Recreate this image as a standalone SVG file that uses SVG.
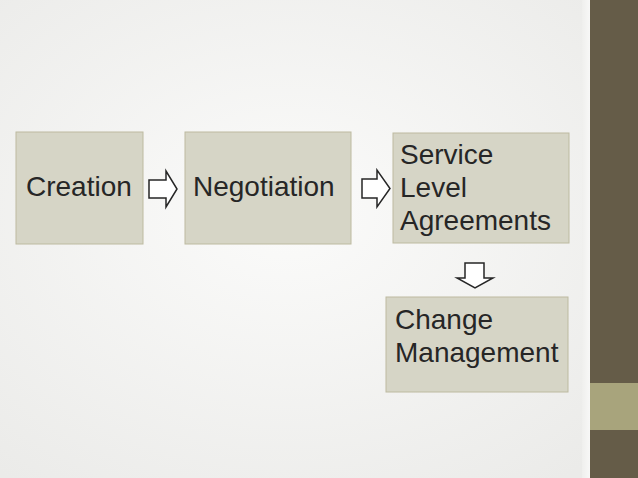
<svg xmlns="http://www.w3.org/2000/svg" width="638" height="478" viewBox="0 0 638 478">
<defs>
<radialGradient id="bg" cx="0.45" cy="0.45" r="0.7">
<stop offset="0" stop-color="#fbfbfa"/>
<stop offset="1" stop-color="#ebebe9"/>
</radialGradient>
<linearGradient id="strip" x1="0" y1="0" x2="1" y2="0">
<stop offset="0" stop-color="#efefed"/>
<stop offset="1" stop-color="#f8f8f7"/>
</linearGradient>
<style>
.box{fill:#d6d5c6;stroke:#bdbaa0;stroke-width:1}
.t{font-family:"Liberation Sans",Arial,sans-serif;font-size:28px;fill:#262626}
.arr{fill:#ffffff;stroke:#262626;stroke-width:1.5;stroke-linejoin:miter}
</style>
</defs>
<rect x="0" y="0" width="638" height="478" fill="url(#bg)"/>
<rect x="582" y="0" width="8" height="478" fill="url(#strip)"/>
<rect x="590" y="0" width="48" height="478" fill="#655c48"/>
<rect x="590" y="383" width="48" height="47" fill="#a8a47c"/>
<g id="creation">
<rect class="box" x="16" y="132" width="127" height="112"/>
<text class="t" x="26" y="196">Creation</text>
</g>
<g id="negotiation">
<rect class="box" x="185" y="132" width="166" height="112"/>
<text class="t" x="193" y="196">Negotiation</text>
</g>
<g id="sla">
<rect class="box" x="393" y="133" width="176" height="110"/>
<text class="t" x="400" y="164">Service</text>
<text class="t" x="400" y="197">Level</text>
<text class="t" x="400" y="230">Agreements</text>
</g>
<g id="change">
<rect class="box" x="386" y="297" width="182" height="95"/>
<text class="t" x="395" y="329">Change</text>
<text class="t" x="395" y="362">Management</text>
</g>
<g id="connectors">
<path class="arr" d="M149,180 H166 V171 L177,189 L166,207 V198 H149 Z"/>
<path class="arr" d="M362,179 H377 V170 L390,188.5 L377,207 V198 H362 Z"/>
<path class="arr" d="M465,263 V278 H457 L475,288 L493,278 H484 V263 Z"/>
</g>
</svg>
